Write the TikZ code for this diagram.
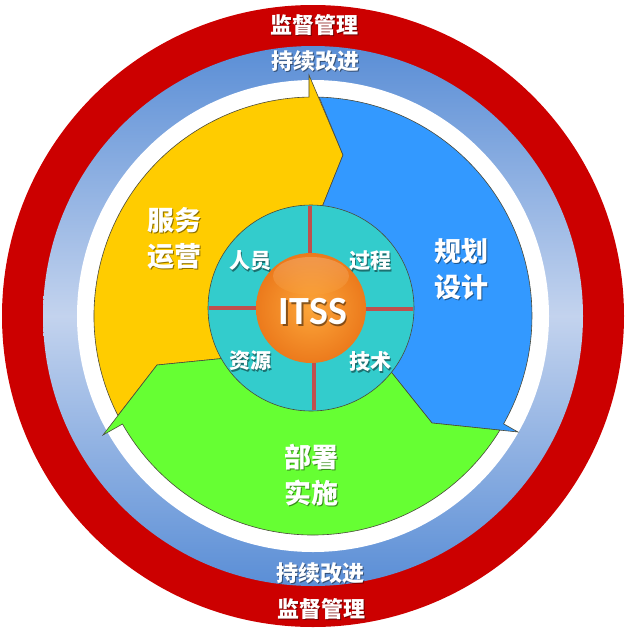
\documentclass[tikz,border=0pt]{standalone}
\usepackage{fontspec}
\setmainfont{Carlito}
\newfontfamily\cjk{Noto Sans CJK SC}
\usetikzlibrary{calc}
\definecolor{ringred}{HTML}{CC0000}
\definecolor{ringblue}{HTML}{5A8ED6}
\definecolor{ringlight}{HTML}{C3D3EE}
\definecolor{secyellow}{HTML}{FFCC00}
\definecolor{secblue}{HTML}{3399FF}
\definecolor{secgreen}{HTML}{66FF33}
\definecolor{hubteal}{HTML}{33CCCC}
\definecolor{crossred}{HTML}{C0504D}
\definecolor{balllight}{HTML}{FCA63A}
\definecolor{balldark}{HTML}{EC7A1C}
\definecolor{edgegray}{HTML}{4A4A3A}
\tikzset{
  sector/.style={draw=edgegray, line width=0.6pt, line join=miter},
  crossline/.style={draw=crossred, line width=4pt},
  labeltxt/.style={text=white, inner sep=0pt, align=center},
  shadowtxt/.style={text=black, opacity=0.45, inner sep=0pt, align=center},
}
\newcommand\shlabel[5]{%
  \node[shadowtxt, font=\cjk\bfseries\fontsize{#3}{#4}\selectfont] at ($(#2)+(1.5,1.5)$) {#5};
  \node[labeltxt, font=\cjk\bfseries\fontsize{#3}{#4}\selectfont] (#1) at (#2) {#5};}
\begin{document}
\begin{tikzpicture}[x=1pt,y=-1pt]
\useasboundingbox (0,0) rectangle (626,630);
\coordinate (c0) at (313,316);
% outer rings
\fill[ringred] (c0) circle (311);
\shade[top color=ringblue, bottom color=ringblue, middle color=ringlight] (c0) circle (270);
\fill[white] (c0) circle (236);
% key points
\coordinate (Ty) at (309,75);
\coordinate (Cy) at (343,155);
\coordinate (Iy) at (296,272);
\coordinate (Tb) at (518,432);
\coordinate (Cb) at (432,423);
\coordinate (Ib) at (361.6,335);
\coordinate (Tg) at (103,435);
\coordinate (Cg) at (157,365);
\coordinate (Ig) at (297,351);
% sectors
\filldraw[sector, fill=secyellow] ($(c0)+(152.98:219)$) arc[start angle=152.98, end angle=268.95, radius=219]
  -- (Ty) -- (Cy) -- (Iy) -- (Ig) -- (Cg) -- cycle;
\filldraw[sector, fill=secblue] ($(c0)+(271.6:219)$) arc[start angle=271.6, end angle=389.5, radius=219]
  -- (Tb) -- (Cb) -- (Ib) -- (Iy) -- (Cy) -- cycle;
\filldraw[sector, fill=secgreen] ($(c0)+(31.4:219)$) arc[start angle=31.4, end angle=150.45, radius=219]
  -- (Tg) -- (Cg) -- (Ig) -- (Ib) -- (Cb) -- cycle;
% hub
\coordinate (hc) at (311,308);
\filldraw[draw=edgegray, line width=0.6pt, fill=hubteal] (hc) circle (103);
\draw[crossline] (310,206) -- (310,262);
\draw[crossline] (314,355) -- (314,410);
\draw[crossline] (209,308) -- (262,308);
\draw[crossline] (360,309) -- (413,309);
\shade[inner color=balllight, outer color=balldark] (hc) circle (55);
\shade[top color=white, bottom color=balllight, opacity=0.2] (311,276) ellipse (38 and 19);
\node[shadowtxt, font=\bfseries\fontsize{40}{40}\selectfont] at (314.5,313.5) {ITSS};
\node[labeltxt, font=\bfseries\fontsize{40}{40}\selectfont] (itss) at (313,312) {ITSS};
% labels
\shlabel{top1}{314,25}{22}{26}{监督管理}
\shlabel{top2}{315,61}{22}{26}{持续改进}
\shlabel{bot2}{320,573}{22}{26}{持续改进}
\shlabel{bot1}{321,609}{22}{26}{监督管理}
\shlabel{ops}{174,238}{27}{36}{服务\\运营}
\shlabel{plan}{461,269}{27}{36}{规划\\设计}
\shlabel{depl}{311,475}{27}{36}{部署\\实施}
\shlabel{ppl}{250,261}{21}{25}{人员}
\shlabel{proc}{370,261}{21}{25}{过程}
\shlabel{res}{250,361}{21}{25}{资源}
\shlabel{tech}{370,362}{21}{25}{技术}
\end{tikzpicture}
\end{document}
